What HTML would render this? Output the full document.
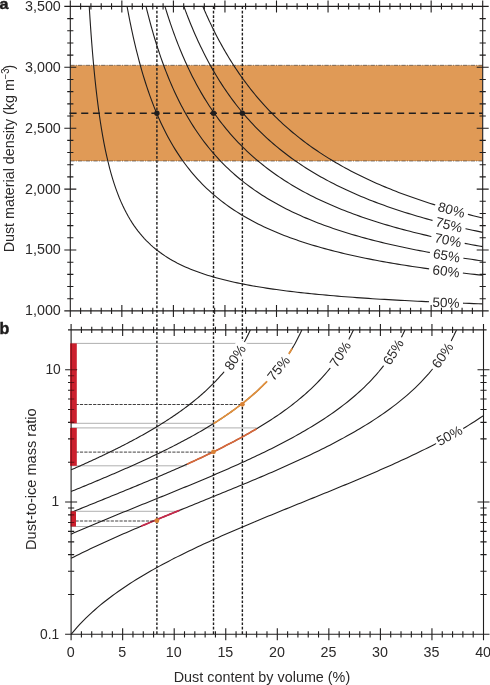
<!DOCTYPE html>
<html lang="en"><head><meta charset="utf-8"><title>Dust density and dust-to-ice ratio</title>
<style>html,body{margin:0;padding:0;background:#fff}svg{display:block}</style></head>
<body>
<svg width="490" height="685" viewBox="0 0 490 685" font-family="'Liberation Sans', Arial, sans-serif" fill="#2b2929">
<rect width="490" height="685" fill="#fff"/>
<rect x="70.3" y="65.3" width="412.4" height="95.7" fill="#e09a56"/>
<g stroke="#201e1e" stroke-opacity="0.8" stroke-width="0.7" stroke-dasharray="4.3 1.2 1 1.2" fill="none"><path d="M70.3 65.3H482.7"/><path d="M70.3 161H482.7"/></g>
<g stroke="#201e1e" stroke-width="1.4" stroke-dasharray="2.7 1.7" fill="none">
<path d="M156.9 6.4V634.3"/>
<path d="M213.51 6.4V634.3"/>
<path d="M242.37 6.4V634.3"/>
</g>
<path d="M69.5 113.22H482.7" stroke="#201e1e" stroke-width="1.5" stroke-dasharray="7.1 4.6" fill="none"/>
<g stroke="#201e1e" stroke-width="1.1" fill="none" stroke-linejoin="round">
<path d="M89.23 6.4L89.37 8.77L89.67 13.47L90.07 19.66L90.56 26.89L91.13 34.89L91.78 43.39L92.49 52.22L93.27 61.21L94.1 70.25L95 79.24L95.95 88.09L96.95 96.76L98.01 105.19L99.11 113.36L100.27 121.25L101.47 128.83L102.71 136.12L104 143.09L105.34 149.77L106.72 156.14L108.14 162.22L109.6 168.02L111.1 173.55L112.64 178.81L114.22 183.83L115.84 188.61L117.5 193.15L119.19 197.49L120.92 201.61L122.69 205.54L124.49 209.29L126.33 212.86L128.2 216.27L130.11 219.52L132.05 222.62L134.02 225.58L136.03 228.41L138.07 231.11L140.14 233.7L142.24 236.17L144.38 238.54L146.55 240.8L148.75 242.97L150.98 245.05L153.24 247.05L155.53 248.96L157.85 250.79L160.2 252.56L162.58 254.25L164.99 255.88L167.43 257.44L169.9 258.95L172.4 260.4L174.92 261.79L177.47 263.14L180.05 264.43L182.66 265.68L185.3 266.89L187.96 268.05L190.65 269.17L193.37 270.25L196.12 271.3L198.89 272.31L201.69 273.29L204.51 274.23L207.36 275.15L210.24 276.03L213.14 276.89L216.07 277.72L219.03 278.52L222.01 279.3L225.01 280.06L228.04 280.79L231.09 281.5L234.17 282.19L237.28 282.86L240.41 283.51L243.56 284.14L246.74 284.76L249.94 285.35L253.17 285.93L256.42 286.5L259.69 287.04L262.99 287.58L266.31 288.1L269.66 288.6L273.03 289.09L276.42 289.57L279.83 290.04L283.27 290.49L286.73 290.94L290.22 291.37L293.72 291.79L297.25 292.2L300.8 292.6L304.38 292.99L307.98 293.38L311.6 293.75L315.24 294.11L318.9 294.47L322.59 294.81L326.29 295.15L330.02 295.48L333.78 295.81L337.55 296.12L341.34 296.43L345.16 296.73L349 297.03L352.86 297.32L356.74 297.6L360.64 297.88L364.56 298.15L368.5 298.42L372.47 298.68L376.46 298.93L380.46 299.18L384.49 299.42L388.54 299.66L392.61 299.9L396.7 300.13L400.81 300.35L404.94 300.57L409.09 300.79L413.26 301L417.45 301.21L421.66 301.41L425.89 301.61L430.14 301.81L434.41 302L438.7 302.19L443.02 302.37L447.35 302.55L451.7 302.73L456.07 302.91L460.46 303.08L464.87 303.25L469.3 303.42L473.74 303.58L478.21 303.74L482.7 303.9"/>
<path d="M127.09 6.4L127.22 7.12L127.48 8.56L127.85 10.52L128.29 12.87L128.81 15.57L129.39 18.55L130.03 21.78L130.73 25.22L131.49 28.85L132.3 32.62L133.16 36.52L134.07 40.53L135.02 44.62L136.02 48.78L137.06 52.99L138.15 57.23L139.27 61.49L140.44 65.77L141.65 70.04L142.89 74.29L144.17 78.53L145.5 82.74L146.85 86.91L148.25 91.05L149.67 95.13L151.14 99.17L152.63 103.15L154.16 107.08L155.73 110.94L157.32 114.75L158.95 118.48L160.61 122.16L162.31 125.76L164.03 129.3L165.78 132.77L167.57 136.17L169.38 139.5L171.23 142.77L173.1 145.97L175 149.1L176.93 152.16L178.89 155.15L180.88 158.08L182.89 160.95L184.94 163.75L187.01 166.49L189.11 169.17L191.23 171.79L193.38 174.35L195.56 176.85L197.76 179.3L199.99 181.69L202.25 184.02L204.53 186.3L206.84 188.53L209.17 190.71L211.53 192.84L213.91 194.92L216.32 196.95L218.75 198.94L221.21 200.88L223.69 202.78L226.2 204.63L228.73 206.44L231.28 208.22L233.85 209.95L236.45 211.64L239.08 213.3L241.72 214.92L244.39 216.5L247.09 218.05L249.8 219.57L252.54 221.05L255.3 222.5L258.09 223.92L260.89 225.31L263.72 226.67L266.57 227.99L269.44 229.3L272.34 230.57L275.25 231.82L278.19 233.04L281.15 234.23L284.13 235.4L287.13 236.55L290.15 237.67L293.2 238.77L296.26 239.85L299.35 240.91L302.46 241.94L305.59 242.95L308.74 243.95L311.9 244.92L315.09 245.88L318.31 246.81L321.54 247.73L324.79 248.63L328.06 249.51L331.35 250.38L334.66 251.23L337.99 252.06L341.34 252.88L344.71 253.68L348.1 254.47L351.51 255.24L354.94 256L358.39 256.75L361.86 257.48L365.35 258.2L368.86 258.9L372.38 259.59L375.93 260.27L379.49 260.94L383.08 261.6L386.68 262.24L390.3 262.88L393.94 263.5L397.6 264.11L401.27 264.71L404.97 265.3L408.68 265.88L412.42 266.45L416.17 267.01L419.94 267.57L423.73 268.11L427.53 268.64L431.36 269.17L435.2 269.68L439.06 270.19L442.94 270.69L446.83 271.18L450.75 271.67L454.68 272.14L458.63 272.61L462.6 273.07L466.58 273.53L470.59 273.97L474.61 274.41L478.64 274.85L482.7 275.27"/>
<path d="M146.01 6.4L146.14 6.91L146.39 7.94L146.73 9.33L147.15 11.02L147.64 12.97L148.19 15.13L148.8 17.48L149.47 20.01L150.18 22.68L150.95 25.49L151.76 28.41L152.62 31.43L153.53 34.54L154.47 37.73L155.46 40.98L156.49 44.28L157.55 47.63L158.66 51.02L159.8 54.43L160.98 57.86L162.19 61.3L163.44 64.75L164.73 68.2L166.05 71.64L167.4 75.07L168.78 78.49L170.2 81.89L171.65 85.27L173.13 88.63L174.64 91.95L176.19 95.25L177.76 98.51L179.36 101.74L180.99 104.93L182.65 108.08L184.34 111.19L186.06 114.26L187.8 117.29L189.58 120.28L191.38 123.23L193.21 126.13L195.06 128.98L196.94 131.79L198.85 134.56L200.79 137.28L202.75 139.96L204.73 142.59L206.74 145.18L208.78 147.73L210.84 150.23L212.93 152.69L215.04 155.1L217.18 157.47L219.34 159.8L221.52 162.09L223.73 164.34L225.96 166.55L228.22 168.71L230.5 170.84L232.8 172.93L235.13 174.98L237.48 176.99L239.85 178.97L242.24 180.91L244.66 182.81L247.1 184.68L249.56 186.51L252.05 188.31L254.55 190.08L257.08 191.81L259.63 193.51L262.2 195.18L264.79 196.82L267.41 198.43L270.04 200.01L272.7 201.57L275.38 203.09L278.07 204.58L280.79 206.05L283.53 207.49L286.29 208.91L289.08 210.3L291.88 211.66L294.7 213L297.54 214.32L300.4 215.61L303.29 216.88L306.19 218.13L309.11 219.35L312.05 220.55L315.01 221.74L318 222.9L321 224.04L324.02 225.16L327.06 226.26L330.11 227.34L333.19 228.41L336.29 229.45L339.41 230.48L342.54 231.49L345.69 232.48L348.87 233.46L352.06 234.42L355.27 235.36L358.5 236.29L361.74 237.2L365.01 238.1L368.29 238.98L371.6 239.85L374.92 240.71L378.25 241.55L381.61 242.37L384.99 243.19L388.38 243.99L391.79 244.77L395.22 245.55L398.66 246.31L402.13 247.06L405.61 247.8L409.11 248.53L412.62 249.24L416.16 249.95L419.71 250.64L423.28 251.33L426.87 252L430.47 252.66L434.09 253.31L437.73 253.96L441.38 254.59L445.05 255.21L448.74 255.83L452.45 256.43L456.17 257.03L459.91 257.61L463.67 258.19L467.44 258.76L471.23 259.32L475.04 259.88L478.86 260.42L482.7 260.96"/>
<path d="M164.94 6.4L165.06 6.79L165.3 7.56L165.62 8.62L166.02 9.9L166.48 11.38L167 13.03L167.58 14.84L168.2 16.78L168.88 18.85L169.6 21.03L170.37 23.31L171.18 25.68L172.03 28.13L172.92 30.65L173.86 33.24L174.83 35.88L175.83 38.57L176.87 41.31L177.95 44.08L179.07 46.89L180.21 49.72L181.39 52.57L182.61 55.44L183.85 58.32L185.13 61.21L186.43 64.1L187.77 66.99L189.14 69.89L190.54 72.77L191.96 75.65L193.42 78.52L194.9 81.37L196.41 84.21L197.95 87.03L199.52 89.84L201.11 92.62L202.74 95.38L204.38 98.12L206.06 100.83L207.76 103.52L209.48 106.18L211.23 108.82L213.01 111.42L214.81 114L216.64 116.55L218.49 119.06L220.36 121.55L222.26 124.01L224.18 126.43L226.13 128.83L228.1 131.19L230.09 133.53L232.11 135.83L234.14 138.1L236.21 140.34L238.29 142.54L240.4 144.72L242.53 146.86L244.68 148.98L246.85 151.06L249.05 153.11L251.26 155.13L253.5 157.13L255.76 159.09L258.04 161.02L260.35 162.93L262.67 164.8L265.01 166.65L267.38 168.47L269.76 170.26L272.17 172.02L274.6 173.76L277.04 175.47L279.51 177.15L282 178.81L284.5 180.44L287.03 182.05L289.58 183.63L292.14 185.19L294.73 186.72L297.34 188.23L299.96 189.71L302.61 191.18L305.27 192.62L307.95 194.03L310.65 195.43L313.37 196.8L316.11 198.16L318.87 199.49L321.65 200.8L324.44 202.09L327.25 203.36L330.09 204.61L332.94 205.85L335.81 207.06L338.69 208.26L341.6 209.43L344.52 210.59L347.46 211.73L350.42 212.86L353.4 213.97L356.39 215.06L359.4 216.13L362.43 217.19L365.48 218.23L368.54 219.26L371.63 220.27L374.72 221.27L377.84 222.25L380.98 223.22L384.13 224.17L387.29 225.11L390.48 226.04L393.68 226.95L396.9 227.85L400.14 228.74L403.39 229.61L406.66 230.47L409.94 231.32L413.24 232.16L416.56 232.98L419.9 233.8L423.25 234.6L426.62 235.39L430 236.17L433.41 236.94L436.82 237.69L440.26 238.44L443.71 239.18L447.17 239.9L450.65 240.62L454.15 241.33L457.66 242.03L461.19 242.71L464.74 243.39L468.3 244.06L471.88 244.72L475.47 245.37L479.08 246.02L482.7 246.65"/>
<path d="M183.87 6.4L183.98 6.7L184.2 7.31L184.51 8.14L184.88 9.15L185.32 10.32L185.81 11.62L186.35 13.05L186.94 14.6L187.57 16.24L188.25 17.98L188.97 19.81L189.74 21.71L190.54 23.69L191.38 25.73L192.25 27.83L193.17 29.99L194.11 32.19L195.09 34.44L196.11 36.73L197.15 39.05L198.23 41.4L199.34 43.78L200.48 46.19L201.65 48.61L202.85 51.05L204.08 53.5L205.34 55.97L206.63 58.45L207.94 60.93L209.28 63.41L210.65 65.89L212.05 68.38L213.47 70.86L214.92 73.34L216.39 75.81L217.89 78.27L219.41 80.72L220.96 83.16L222.54 85.59L224.13 88.01L225.76 90.41L227.4 92.8L229.07 95.17L230.77 97.53L232.48 99.86L234.22 102.18L235.99 104.48L237.77 106.76L239.58 109.01L241.41 111.25L243.26 113.47L245.14 115.66L247.03 117.84L248.95 119.99L250.89 122.12L252.85 124.22L254.83 126.3L256.83 128.36L258.86 130.4L260.9 132.41L262.97 134.41L265.05 136.37L267.16 138.32L269.28 140.24L271.43 142.14L273.59 144.01L275.78 145.86L277.98 147.69L280.2 149.5L282.45 151.28L284.71 153.05L286.99 154.79L289.29 156.5L291.61 158.2L293.95 159.87L296.31 161.52L298.69 163.15L301.08 164.76L303.5 166.35L305.93 167.92L308.38 169.47L310.85 170.99L313.33 172.5L315.84 173.98L318.36 175.45L320.9 176.9L323.46 178.33L326.04 179.74L328.63 181.13L331.24 182.5L333.87 183.85L336.51 185.19L339.18 186.5L341.86 187.8L344.56 189.09L347.27 190.35L350 191.6L352.75 192.83L355.52 194.05L358.3 195.25L361.1 196.43L363.91 197.6L366.75 198.75L369.6 199.89L372.46 201.01L375.34 202.12L378.24 203.21L381.16 204.29L384.09 205.35L387.03 206.4L390 207.44L392.98 208.46L395.97 209.47L398.98 210.47L402.01 211.45L405.05 212.42L408.11 213.38L411.19 214.32L414.28 215.26L417.38 216.18L420.5 217.09L423.64 217.99L426.79 218.87L429.96 219.75L433.14 220.61L436.34 221.46L439.56 222.31L442.78 223.14L446.03 223.96L449.29 224.77L452.56 225.57L455.85 226.36L459.15 227.14L462.47 227.91L465.81 228.67L469.16 229.42L472.52 230.17L475.9 230.9L479.29 231.62L482.7 232.34"/>
<path d="M202.8 6.4L202.9 6.64L203.11 7.13L203.4 7.8L203.75 8.61L204.15 9.55L204.61 10.61L205.12 11.76L205.67 13.01L206.27 14.35L206.9 15.77L207.58 17.26L208.29 18.81L209.04 20.43L209.83 22.11L210.65 23.84L211.51 25.62L212.39 27.45L213.31 29.32L214.26 31.22L215.24 33.16L216.25 35.14L217.29 37.14L218.36 39.17L219.45 41.22L220.58 43.29L221.73 45.38L222.91 47.49L224.11 49.61L225.34 51.74L226.6 53.88L227.88 56.03L229.19 58.19L230.52 60.35L231.88 62.51L233.26 64.68L234.66 66.85L236.09 69.01L237.54 71.17L239.02 73.33L240.51 75.49L242.03 77.63L243.57 79.78L245.14 81.91L246.73 84.03L248.33 86.15L249.96 88.25L251.61 90.35L253.29 92.43L254.98 94.5L256.69 96.56L258.43 98.6L260.19 100.63L261.96 102.65L263.76 104.65L265.57 106.64L267.41 108.61L269.27 110.56L271.14 112.5L273.04 114.42L274.95 116.33L276.88 118.22L278.84 120.09L280.81 121.95L282.8 123.79L284.81 125.61L286.84 127.41L288.88 129.2L290.95 130.97L293.03 132.72L295.13 134.45L297.25 136.17L299.39 137.87L301.54 139.55L303.72 141.21L305.91 142.86L308.12 144.48L310.34 146.1L312.59 147.69L314.85 149.27L317.12 150.82L319.42 152.37L321.73 153.89L324.06 155.4L326.41 156.89L328.77 158.37L331.15 159.82L333.55 161.27L335.96 162.69L338.39 164.1L340.83 165.49L343.3 166.87L345.77 168.23L348.27 169.58L350.78 170.91L353.31 172.22L355.85 173.52L358.41 174.81L360.98 176.08L363.57 177.33L366.18 178.58L368.8 179.8L371.44 181.01L374.09 182.21L376.76 183.4L379.44 184.57L382.14 185.72L384.86 186.87L387.59 188L390.33 189.11L393.09 190.22L395.87 191.31L398.66 192.39L401.47 193.45L404.29 194.51L407.12 195.55L409.97 196.58L412.84 197.59L415.72 198.6L418.61 199.59L421.52 200.58L424.44 201.55L427.38 202.51L430.33 203.46L433.3 204.39L436.28 205.32L439.28 206.24L442.29 207.14L445.31 208.04L448.35 208.93L451.4 209.8L454.47 210.67L457.55 211.52L460.65 212.37L463.76 213.2L466.88 214.03L470.01 214.85L473.17 215.66L476.33 216.46L479.51 217.25L482.7 218.03"/>
</g>
<circle cx="156.9" cy="113.22" r="2.7" fill="#201e1e"/>
<circle cx="213.51" cy="113.22" r="2.7" fill="#201e1e"/>
<circle cx="242.37" cy="113.22" r="2.7" fill="#201e1e"/>
<g transform="translate(446 302.5) rotate(2.4)"><rect x="-17" y="-7.5" width="34" height="15" fill="#fff"/><text x="0" y="4.8" font-size="13.6" text-anchor="middle">50%</text></g>
<g transform="translate(446 271.08) rotate(7.19)"><rect x="-17" y="-7.5" width="34" height="15" fill="#fff"/><text x="0" y="4.8" font-size="13.6" text-anchor="middle">60%</text></g>
<g transform="translate(446.6 255.47) rotate(9.45)"><rect x="-17" y="-7.5" width="34" height="15" fill="#fff"/><text x="0" y="4.8" font-size="13.6" text-anchor="middle">65%</text></g>
<g transform="translate(448 240.08) rotate(11.63)"><rect x="-17" y="-7.5" width="34" height="15" fill="#fff"/><text x="0" y="4.8" font-size="13.6" text-anchor="middle">70%</text></g>
<g transform="translate(449 224.7) rotate(13.97)"><rect x="-17" y="-7.5" width="34" height="15" fill="#fff"/><text x="0" y="4.8" font-size="13.6" text-anchor="middle">75%</text></g>
<g transform="translate(451.5 209.83) rotate(15.76)"><rect x="-17" y="-7.5" width="34" height="15" fill="#fff"/><text x="0" y="4.8" font-size="13.6" text-anchor="middle">80%</text></g>
<path d="M64.3 6.4H488.7M64.3 310.9H488.7M70.3 0.4V316.9M482.7 0.4V316.9M70.3 0.4V12.4M70.3 304.9V316.9M80.61 3.3V9.5M80.61 307.8V314M90.92 3.3V9.5M90.92 307.8V314M101.23 3.3V9.5M101.23 307.8V314M111.54 3.3V9.5M111.54 307.8V314M121.85 0.4V12.4M121.85 304.9V316.9M132.16 3.3V9.5M132.16 307.8V314M142.47 3.3V9.5M142.47 307.8V314M152.78 3.3V9.5M152.78 307.8V314M163.09 3.3V9.5M163.09 307.8V314M173.4 0.4V12.4M173.4 304.9V316.9M183.71 3.3V9.5M183.71 307.8V314M194.02 3.3V9.5M194.02 307.8V314M204.33 3.3V9.5M204.33 307.8V314M214.64 3.3V9.5M214.64 307.8V314M224.95 0.4V12.4M224.95 304.9V316.9M235.26 3.3V9.5M235.26 307.8V314M245.57 3.3V9.5M245.57 307.8V314M255.88 3.3V9.5M255.88 307.8V314M266.19 3.3V9.5M266.19 307.8V314M276.5 0.4V12.4M276.5 304.9V316.9M286.81 3.3V9.5M286.81 307.8V314M297.12 3.3V9.5M297.12 307.8V314M307.43 3.3V9.5M307.43 307.8V314M317.74 3.3V9.5M317.74 307.8V314M328.05 0.4V12.4M328.05 304.9V316.9M338.36 3.3V9.5M338.36 307.8V314M348.67 3.3V9.5M348.67 307.8V314M358.98 3.3V9.5M358.98 307.8V314M369.29 3.3V9.5M369.29 307.8V314M379.6 0.4V12.4M379.6 304.9V316.9M389.91 3.3V9.5M389.91 307.8V314M400.22 3.3V9.5M400.22 307.8V314M410.53 3.3V9.5M410.53 307.8V314M420.84 3.3V9.5M420.84 307.8V314M431.15 0.4V12.4M431.15 304.9V316.9M441.46 3.3V9.5M441.46 307.8V314M451.77 3.3V9.5M451.77 307.8V314M462.08 3.3V9.5M462.08 307.8V314M472.39 3.3V9.5M472.39 307.8V314M482.7 0.4V12.4M482.7 304.9V316.9M64.3 310.9H76.3M476.7 310.9H488.7M67.2 298.72H73.4M479.6 298.72H485.8M67.2 286.54H73.4M479.6 286.54H485.8M67.2 274.36H73.4M479.6 274.36H485.8M67.2 262.18H73.4M479.6 262.18H485.8M64.3 250H76.3M476.7 250H488.7M67.2 237.82H73.4M479.6 237.82H485.8M67.2 225.64H73.4M479.6 225.64H485.8M67.2 213.46H73.4M479.6 213.46H485.8M67.2 201.28H73.4M479.6 201.28H485.8M64.3 189.1H76.3M476.7 189.1H488.7M67.2 176.92H73.4M479.6 176.92H485.8M67.2 164.74H73.4M479.6 164.74H485.8M67.2 152.56H73.4M479.6 152.56H485.8M67.2 140.38H73.4M479.6 140.38H485.8M64.3 128.2H76.3M476.7 128.2H488.7M67.2 116.02H73.4M479.6 116.02H485.8M67.2 103.84H73.4M479.6 103.84H485.8M67.2 91.66H73.4M479.6 91.66H485.8M67.2 79.48H73.4M479.6 79.48H485.8M64.3 67.3H76.3M476.7 67.3H488.7M67.2 55.12H73.4M479.6 55.12H485.8M67.2 42.94H73.4M479.6 42.94H485.8M67.2 30.76H73.4M479.6 30.76H485.8M67.2 18.58H73.4M479.6 18.58H485.8M64.3 6.4H76.3M476.7 6.4H488.7" stroke="#201e1e" stroke-width="1.1" fill="none"/>
<g stroke="#9c9c9c" stroke-width="0.8" fill="none">
<path d="M71.1 343.4H292.5"/>
<path d="M71.1 423.3H213.5"/>
<path d="M71.1 427.9H256.7"/>
<path d="M71.1 465.8H186.9"/>
<path d="M71.1 511.3H179.5"/>
<path d="M71.1 526.5H141"/>
</g>
<g stroke="#201e1e" stroke-width="1.1" fill="none" stroke-linejoin="round">
<path d="M71.1 634.3L74.05 630.78L76.99 627.42L79.94 624.22L82.88 621.14L85.83 618.2L88.77 615.36L91.72 612.62L94.67 609.98L97.61 607.43L100.56 604.95L103.5 602.55L106.45 600.22L109.39 597.95L112.34 595.74L115.29 593.59L118.23 591.49L121.18 589.43L124.12 587.43L127.07 585.46L130.01 583.54L132.96 581.66L135.91 579.81L138.85 578L141.8 576.22L144.74 574.47L147.69 572.75L150.63 571.05L153.58 569.39L156.53 567.75L159.47 566.13L162.42 564.53L165.36 562.96L168.31 561.41L171.25 559.88L174.2 558.36L177.15 556.87L180.09 555.39L183.04 553.93L185.98 552.48L188.93 551.05L191.87 549.63L194.82 548.22L197.77 546.83L200.71 545.45L203.66 544.09L206.6 542.73L209.55 541.39L212.49 540.05L215.44 538.73L218.39 537.41L221.33 536.11L224.28 534.81L227.22 533.52L230.17 532.24L233.11 530.96L236.06 529.69L239.01 528.43L241.95 527.18L244.9 525.93L247.84 524.69L250.79 523.45L253.73 522.21L256.68 520.98L259.63 519.76L262.57 518.54L265.52 517.32L268.46 516.11L271.41 514.9L274.35 513.69L277.3 512.49L280.25 511.28L283.19 510.08L286.14 508.88L289.08 507.69L292.03 506.49L294.97 505.3L297.92 504.1L300.87 502.91L303.81 501.71L306.76 500.52L309.7 499.32L312.65 498.13L315.59 496.93L318.54 495.74L321.49 494.54L324.43 493.34L327.38 492.14L330.32 490.93L333.27 489.73L336.21 488.52L339.16 487.31L342.11 486.09L345.05 484.87L348 483.65L350.94 482.42L353.89 481.19L356.83 479.96L359.78 478.72L362.73 477.47L365.67 476.22L368.62 474.96L371.56 473.7L374.51 472.42L377.45 471.15L380.4 469.86L383.35 468.57L386.29 467.26L389.24 465.95L392.18 464.63L395.13 463.3L398.07 461.96L401.02 460.61L403.97 459.25L406.91 457.88L409.86 456.5L412.8 455.1L415.75 453.69L418.69 452.26L421.64 450.82L424.59 449.37L427.53 447.9L430.48 446.41L433.42 444.91L436.37 443.38L439.31 441.84L442.26 440.28L445.21 438.69L448.15 437.09L451.1 435.46L454.04 433.81L456.99 432.13L459.93 430.42L462.88 428.69L465.83 426.92L468.77 425.12L471.72 423.29L474.66 421.43L477.61 419.53L480.55 417.58L483.5 415.6"/>
<path d="M71.1 558.36L73.85 556.96L76.61 555.58L79.36 554.21L82.11 552.86L84.86 551.51L87.62 550.18L90.37 548.87L93.12 547.56L95.88 546.27L98.63 544.98L101.38 543.71L104.13 542.44L106.89 541.19L109.64 539.94L112.39 538.7L115.15 537.48L117.9 536.25L120.65 535.04L123.4 533.83L126.16 532.63L128.91 531.44L131.66 530.25L134.42 529.07L137.17 527.89L139.92 526.72L142.67 525.56L145.43 524.4L148.18 523.24L150.93 522.09L153.69 520.94L156.44 519.8L159.19 518.66L161.94 517.52L164.7 516.38L167.45 515.25L170.2 514.12L172.96 513L175.71 511.87L178.46 510.75L181.21 509.63L183.97 508.51L186.72 507.39L189.47 506.27L192.22 505.15L194.98 504.04L197.73 502.92L200.48 501.81L203.24 500.69L205.99 499.57L208.74 498.46L211.49 497.34L214.25 496.22L217 495.1L219.75 493.98L222.51 492.86L225.26 491.74L228.01 490.61L230.76 489.48L233.52 488.35L236.27 487.22L239.02 486.09L241.78 484.95L244.53 483.8L247.28 482.66L250.03 481.51L252.79 480.36L255.54 479.2L258.29 478.03L261.05 476.87L263.8 475.69L266.55 474.52L269.3 473.33L272.06 472.14L274.81 470.95L277.56 469.75L280.32 468.54L283.07 467.32L285.82 466.09L288.57 464.86L291.33 463.62L294.08 462.37L296.83 461.11L299.59 459.85L302.34 458.57L305.09 457.28L307.84 455.98L310.6 454.67L313.35 453.35L316.1 452.01L318.86 450.67L321.61 449.31L324.36 447.93L327.11 446.54L329.87 445.14L332.62 443.72L335.37 442.28L338.13 440.83L340.88 439.36L343.63 437.87L346.38 436.35L349.14 434.82L351.89 433.27L354.64 431.69L357.4 430.09L360.15 428.47L362.9 426.81L365.65 425.13L368.41 423.43L371.16 421.69L373.91 419.91L376.67 418.11L379.42 416.27L382.17 414.38L384.92 412.46L387.68 410.5L390.43 408.49L393.18 406.43L395.94 404.32L398.69 402.16L401.44 399.94L404.19 397.65L406.95 395.3L409.7 392.87L412.45 390.37L415.21 387.78L417.96 385.1L420.71 382.32L423.46 379.43L426.22 376.42L428.97 373.29L431.72 370L434.47 366.56L437.23 362.93L439.98 359.11L442.73 355.05L445.49 350.73L448.24 346.12L450.99 341.15L453.74 335.77L456.5 329.9"/>
<path d="M71.1 534.16L73.48 533.12L75.87 532.08L78.25 531.05L80.64 530.03L83.02 529L85.41 527.98L87.79 526.97L90.18 525.96L92.56 524.95L94.95 523.95L97.33 522.95L99.72 521.95L102.1 520.96L104.48 519.96L106.87 518.97L109.25 517.99L111.64 517L114.02 516.02L116.41 515.04L118.79 514.06L121.18 513.09L123.56 512.11L125.95 511.14L128.33 510.17L130.72 509.2L133.1 508.23L135.48 507.26L137.87 506.29L140.25 505.32L142.64 504.36L145.02 503.39L147.41 502.42L149.79 501.46L152.18 500.49L154.56 499.52L156.95 498.56L159.33 497.59L161.72 496.62L164.1 495.65L166.49 494.68L168.87 493.71L171.25 492.74L173.64 491.77L176.02 490.79L178.41 489.81L180.79 488.84L183.18 487.86L185.56 486.87L187.95 485.89L190.33 484.9L192.72 483.91L195.1 482.92L197.49 481.93L199.87 480.93L202.25 479.93L204.64 478.92L207.02 477.92L209.41 476.9L211.79 475.89L214.18 474.87L216.56 473.85L218.95 472.82L221.33 471.79L223.72 470.75L226.1 469.71L228.49 468.66L230.87 467.61L233.25 466.55L235.64 465.48L238.02 464.41L240.41 463.34L242.79 462.25L245.18 461.16L247.56 460.06L249.95 458.96L252.33 457.85L254.72 456.73L257.1 455.6L259.49 454.46L261.87 453.32L264.25 452.16L266.64 451L269.02 449.82L271.41 448.64L273.79 447.44L276.18 446.23L278.56 445.01L280.95 443.78L283.33 442.54L285.72 441.28L288.1 440.02L290.49 438.73L292.87 437.43L295.25 436.12L297.64 434.79L300.02 433.45L302.41 432.09L304.79 430.71L307.18 429.31L309.56 427.89L311.95 426.45L314.33 424.99L316.72 423.51L319.1 422.01L321.49 420.48L323.87 418.93L326.25 417.35L328.64 415.74L331.02 414.11L333.41 412.44L335.79 410.74L338.18 409.01L340.56 407.24L342.95 405.43L345.33 403.59L347.72 401.7L350.1 399.76L352.49 397.78L354.87 395.75L357.26 393.67L359.64 391.53L362.02 389.32L364.41 387.06L366.79 384.72L369.18 382.3L371.56 379.81L373.95 377.22L376.33 374.54L378.72 371.76L381.1 368.86L383.49 365.83L385.87 362.67L388.26 359.36L390.64 355.87L393.02 352.19L395.41 348.3L397.79 344.17L400.18 339.75L402.56 335.02L404.95 329.9"/>
<path d="M71.1 512.49L73.12 511.66L75.13 510.84L77.15 510.02L79.17 509.2L81.18 508.38L83.2 507.56L85.21 506.74L87.23 505.92L89.25 505.1L91.26 504.29L93.28 503.47L95.3 502.65L97.31 501.83L99.33 501.02L101.35 500.2L103.36 499.38L105.38 498.56L107.4 497.75L109.41 496.93L111.43 496.11L113.44 495.29L115.46 494.47L117.48 493.65L119.49 492.83L121.51 492L123.53 491.18L125.54 490.35L127.56 489.53L129.58 488.7L131.59 487.87L133.61 487.04L135.63 486.21L137.64 485.37L139.66 484.54L141.67 483.7L143.69 482.86L145.71 482.02L147.72 481.18L149.74 480.33L151.76 479.49L153.77 478.64L155.79 477.78L157.81 476.93L159.82 476.07L161.84 475.21L163.85 474.34L165.87 473.48L167.89 472.61L169.9 471.73L171.92 470.86L173.94 469.98L175.95 469.09L177.97 468.2L179.99 467.31L182 466.42L184.02 465.51L186.04 464.61L188.05 463.7L190.07 462.79L192.08 461.87L194.1 460.94L196.12 460.02L198.13 459.08L200.15 458.14L202.17 457.2L204.18 456.25L206.2 455.29L208.22 454.33L210.23 453.36L212.25 452.38L214.27 451.4L216.28 450.41L218.3 449.41L220.31 448.41L222.33 447.4L224.35 446.38L226.36 445.35L228.38 444.31L230.4 443.26L232.41 442.21L234.43 441.15L236.45 440.07L238.46 438.99L240.48 437.89L242.49 436.79L244.51 435.67L246.53 434.55L248.54 433.41L250.56 432.26L252.58 431.09L254.59 429.92L256.61 428.73L258.63 427.52L260.64 426.3L262.66 425.07L264.68 423.82L266.69 422.55L268.71 421.27L270.72 419.97L272.74 418.65L274.76 417.31L276.77 415.96L278.79 414.58L280.81 413.18L282.82 411.76L284.84 410.31L286.86 408.84L288.87 407.34L290.89 405.82L292.91 404.27L294.92 402.69L296.94 401.08L298.95 399.43L300.97 397.75L302.99 396.04L305 394.29L307.02 392.49L309.04 390.66L311.05 388.78L313.07 386.85L315.09 384.87L317.1 382.84L319.12 380.75L321.14 378.6L323.15 376.39L325.17 374.1L327.18 371.74L329.2 369.29L331.22 366.76L333.23 364.13L335.25 361.4L337.27 358.55L339.28 355.58L341.3 352.47L343.32 349.21L345.33 345.78L347.35 342.16L349.36 338.33L351.38 334.25L353.4 329.9"/>
<path d="M71.1 491.54L72.75 490.86L74.4 490.19L76.04 489.51L77.69 488.84L79.34 488.16L80.99 487.48L82.64 486.8L84.29 486.12L85.93 485.44L87.58 484.76L89.23 484.07L90.88 483.39L92.53 482.7L94.17 482.01L95.82 481.33L97.47 480.63L99.12 479.94L100.77 479.25L102.42 478.55L104.06 477.86L105.71 477.16L107.36 476.46L109.01 475.75L110.66 475.05L112.3 474.34L113.95 473.64L115.6 472.92L117.25 472.21L118.9 471.5L120.55 470.78L122.19 470.06L123.84 469.34L125.49 468.61L127.14 467.89L128.79 467.16L130.44 466.42L132.08 465.69L133.73 464.95L135.38 464.21L137.03 463.46L138.68 462.72L140.32 461.96L141.97 461.21L143.62 460.45L145.27 459.69L146.92 458.93L148.57 458.16L150.21 457.39L151.86 456.61L153.51 455.83L155.16 455.05L156.81 454.26L158.45 453.47L160.1 452.67L161.75 451.87L163.4 451.06L165.05 450.25L166.7 449.44L168.34 448.62L169.99 447.79L171.64 446.96L173.29 446.13L174.94 445.28L176.58 444.44L178.23 443.58L179.88 442.72L181.53 441.86L183.18 440.99L184.83 440.11L186.47 439.22L188.12 438.33L189.77 437.43L191.42 436.53L193.07 435.62L194.71 434.7L196.36 433.77L198.01 432.83L199.66 431.88L201.31 430.93L202.96 429.97L204.6 429L206.25 428.02L207.9 427.03L209.55 426.03L211.2 425.02L212.84 424L214.49 422.96L216.14 421.92L217.79 420.87L219.44 419.8L221.09 418.72L222.73 417.63L224.38 416.53L226.03 415.41L227.68 414.28L229.33 413.13L230.98 411.97L232.62 410.79L234.27 409.6L235.92 408.39L237.57 407.16L239.22 405.91L240.86 404.65L242.51 403.37L244.16 402.06L245.81 400.74L247.46 399.39L249.11 398.02L250.75 396.63L252.4 395.21L254.05 393.76L255.7 392.29L257.35 390.79L258.99 389.26L260.64 387.7L262.29 386.1L263.94 384.47L265.59 382.81L267.24 381.1L268.88 379.36L270.53 377.57L272.18 375.74L273.83 373.86L275.48 371.92L277.12 369.94L278.77 367.89L280.42 365.79L282.07 363.62L283.72 361.37L285.37 359.06L287.01 356.65L288.66 354.17L290.31 351.58L291.96 348.89L293.61 346.09L295.25 343.16L296.9 340.09L298.55 336.87L300.2 333.48L301.85 329.9"/>
<path d="M71.1 469.86L72.38 469.3L73.66 468.74L74.94 468.17L76.22 467.61L77.5 467.04L78.78 466.47L80.06 465.9L81.34 465.33L82.62 464.75L83.9 464.18L85.18 463.6L86.46 463.02L87.74 462.44L89.02 461.85L90.3 461.27L91.58 460.68L92.86 460.09L94.14 459.5L95.42 458.9L96.7 458.31L97.98 457.71L99.26 457.11L100.54 456.5L101.82 455.9L103.1 455.29L104.38 454.68L105.66 454.07L106.94 453.45L108.22 452.83L109.5 452.21L110.78 451.59L112.06 450.96L113.34 450.33L114.62 449.7L115.9 449.06L117.18 448.43L118.46 447.78L119.74 447.14L121.02 446.49L122.3 445.84L123.58 445.19L124.86 444.53L126.14 443.87L127.42 443.2L128.7 442.53L129.98 441.86L131.26 441.18L132.54 440.5L133.82 439.82L135.1 439.13L136.38 438.44L137.66 437.74L138.94 437.04L140.22 436.34L141.5 435.63L142.78 434.91L144.06 434.19L145.34 433.47L146.62 432.74L147.9 432.01L149.18 431.27L150.46 430.52L151.74 429.77L153.02 429.02L154.3 428.26L155.58 427.49L156.86 426.72L158.14 425.94L159.42 425.16L160.7 424.37L161.98 423.57L163.26 422.76L164.54 421.95L165.82 421.14L167.1 420.31L168.38 419.48L169.66 418.64L170.94 417.79L172.22 416.94L173.5 416.08L174.78 415.2L176.06 414.32L177.34 413.44L178.62 412.54L179.9 411.63L181.18 410.71L182.46 409.79L183.74 408.85L185.02 407.91L186.3 406.95L187.58 405.98L188.86 405L190.14 404.01L191.42 403.01L192.7 401.99L193.98 400.96L195.26 399.92L196.54 398.87L197.82 397.8L199.1 396.72L200.38 395.62L201.66 394.5L202.94 393.37L204.22 392.23L205.5 391.06L206.78 389.88L208.06 388.68L209.34 387.46L210.62 386.22L211.9 384.96L213.18 383.68L214.46 382.37L215.74 381.05L217.02 379.69L218.3 378.32L219.58 376.91L220.86 375.48L222.14 374.02L223.42 372.53L224.7 371L225.98 369.44L227.26 367.85L228.54 366.22L229.82 364.55L231.1 362.84L232.38 361.08L233.66 359.28L234.94 357.43L236.22 355.53L237.5 353.57L238.78 351.55L240.06 349.47L241.34 347.32L242.62 345.1L243.9 342.8L245.18 340.42L246.46 337.95L247.74 335.38L249.02 332.7L250.3 329.9"/>
</g>
<path d="M213.5 423.59L214.49 422.96L216.14 421.92L217.79 420.87L219.44 419.8L221.09 418.72L222.73 417.63L224.38 416.53L226.03 415.41L227.68 414.28L229.33 413.13L230.98 411.97L232.62 410.79L234.27 409.6L235.92 408.39L237.57 407.16L239.22 405.91L240.86 404.65L242.51 403.37L244.16 402.06L245.81 400.74L247.46 399.39L249.11 398.02L250.75 396.63L252.4 395.21L254.05 393.76L255.7 392.29L257.35 390.79L258.99 389.26L260.64 387.7L262.29 386.1L263.94 384.47L265.59 382.81L267.24 381.1L268.88 379.36L270.53 377.57L272.18 375.74L273.83 373.86L275.48 371.92L277.12 369.94L278.77 367.89L280.42 365.79L282.07 363.62L283.72 361.37L285.37 359.06L287.01 356.65L288.66 354.17L290.31 351.58L291.96 348.89L292.3 348.31" stroke="#e2903c" stroke-width="1.7" fill="none"/>
<path d="M186.9 464.22L188.05 463.7L190.07 462.79L192.08 461.87L194.1 460.94L196.12 460.02L198.13 459.08L200.15 458.14L202.17 457.2L204.18 456.25L206.2 455.29L208.22 454.33L210.23 453.36L212.25 452.38L214.27 451.4L216.28 450.41L218.3 449.41L220.31 448.41L222.33 447.4L224.35 446.38L226.36 445.35L228.38 444.31L230.4 443.26L232.41 442.21L234.43 441.15L236.45 440.07L238.46 438.99L240.48 437.89L242.49 436.79L244.51 435.67L246.53 434.55L248.54 433.41L250.56 432.26L252.58 431.09L254.59 429.92L256.61 428.73L256.7 428.67" stroke="#d8683a" stroke-width="1.7" fill="none"/>
<path d="M141 526.27L142.67 525.56L145.43 524.4L148.18 523.24L150.93 522.09L153.69 520.94L156.44 519.8L159.19 518.66L161.94 517.52L164.7 516.38L167.45 515.25L170.2 514.12L172.96 513L175.71 511.87L178.46 510.75L179.5 510.32" stroke="#c8284a" stroke-width="1.7" fill="none"/>
<g stroke="#201e1e" stroke-width="0.85" stroke-dasharray="3.2 1.2" fill="none">
<path d="M71.1 404.5H242.37"/>
<path d="M71.1 452.1H213.51"/>
<path d="M71.1 521H156.9"/>
</g>
<circle cx="242.37" cy="404.3" r="2.4" fill="#d98236"/>
<circle cx="213.51" cy="451.8" r="2.4" fill="#d98236"/>
<circle cx="156.9" cy="520.7" r="2.4" fill="#d98236"/>
<g transform="translate(449.3 435.4) rotate(-28.94)"><rect x="-15.5" y="-7.5" width="31" height="15" fill="#fff"/><text x="0" y="4.8" font-size="13.6" text-anchor="middle">50%</text></g>
<g transform="translate(442.5 355.39) rotate(-55.83)"><rect x="-16.75" y="-7.5" width="33.5" height="15" fill="#fff"/><text x="0" y="4.8" font-size="13.6" text-anchor="middle">60%</text></g>
<g transform="translate(393.2 351.91) rotate(-58.5)"><rect x="-16.75" y="-7.5" width="33.5" height="15" fill="#fff"/><text x="0" y="4.8" font-size="13.6" text-anchor="middle">65%</text></g>
<g transform="translate(340.2 354.17) rotate(-57.03)"><rect x="-17" y="-7.5" width="34" height="15" fill="#fff"/><text x="0" y="4.8" font-size="13.6" text-anchor="middle">70%</text></g>
<g transform="translate(278.6 368.11) rotate(-51.12)"><rect x="-17.5" y="-7.5" width="35" height="15" fill="#fff"/><text x="0" y="4.8" font-size="13.6" text-anchor="middle">75%</text></g>
<g transform="translate(235 357.34) rotate(-56.07)"><rect x="-18" y="-7.5" width="36" height="15" fill="#fff"/><text x="0" y="4.8" font-size="13.6" text-anchor="middle">80%</text></g>
<path d="M68 329.9H486.6M65.1 634.3H489.5M71.1 323.9V640.3M483.5 323.9V640.3M71.1 323.9V335.9M71.1 628.3V640.3M81.41 326.8V333M81.41 631.2V637.4M91.72 326.8V333M91.72 631.2V637.4M102.03 326.8V333M102.03 631.2V637.4M112.34 326.8V333M112.34 631.2V637.4M122.65 323.9V335.9M122.65 628.3V640.3M132.96 326.8V333M132.96 631.2V637.4M143.27 326.8V333M143.27 631.2V637.4M153.58 326.8V333M153.58 631.2V637.4M163.89 326.8V333M163.89 631.2V637.4M174.2 323.9V335.9M174.2 628.3V640.3M184.51 326.8V333M184.51 631.2V637.4M194.82 326.8V333M194.82 631.2V637.4M205.13 326.8V333M205.13 631.2V637.4M215.44 326.8V333M215.44 631.2V637.4M225.75 323.9V335.9M225.75 628.3V640.3M236.06 326.8V333M236.06 631.2V637.4M246.37 326.8V333M246.37 631.2V637.4M256.68 326.8V333M256.68 631.2V637.4M266.99 326.8V333M266.99 631.2V637.4M277.3 323.9V335.9M277.3 628.3V640.3M287.61 326.8V333M287.61 631.2V637.4M297.92 326.8V333M297.92 631.2V637.4M308.23 326.8V333M308.23 631.2V637.4M318.54 326.8V333M318.54 631.2V637.4M328.85 323.9V335.9M328.85 628.3V640.3M339.16 326.8V333M339.16 631.2V637.4M349.47 326.8V333M349.47 631.2V637.4M359.78 326.8V333M359.78 631.2V637.4M370.09 326.8V333M370.09 631.2V637.4M380.4 323.9V335.9M380.4 628.3V640.3M390.71 326.8V333M390.71 631.2V637.4M401.02 326.8V333M401.02 631.2V637.4M411.33 326.8V333M411.33 631.2V637.4M421.64 326.8V333M421.64 631.2V637.4M431.95 323.9V335.9M431.95 628.3V640.3M442.26 326.8V333M442.26 631.2V637.4M452.57 326.8V333M452.57 631.2V637.4M462.88 326.8V333M462.88 631.2V637.4M473.19 326.8V333M473.19 631.2V637.4M483.5 323.9V335.9M483.5 628.3V640.3M65.1 634.3H77.1M477.5 634.3H489.5M68 594.48H74.2M480.4 594.48H486.6M68 571.18H74.2M480.4 571.18H486.6M68 554.65H74.2M480.4 554.65H486.6M68 541.83H74.2M480.4 541.83H486.6M68 531.36H74.2M480.4 531.36H486.6M68 522.5H74.2M480.4 522.5H486.6M68 514.83H74.2M480.4 514.83H486.6M68 508.06H74.2M480.4 508.06H486.6M65.1 502.01H77.1M477.5 502.01H489.5M68 462.19H74.2M480.4 462.19H486.6M68 438.89H74.2M480.4 438.89H486.6M68 422.37H74.2M480.4 422.37H486.6M68 409.55H74.2M480.4 409.55H486.6M68 399.07H74.2M480.4 399.07H486.6M68 390.21H74.2M480.4 390.21H486.6M68 382.54H74.2M480.4 382.54H486.6M68 375.78H74.2M480.4 375.78H486.6M65.1 369.72H77.1M477.5 369.72H489.5M68 329.9H74.2M480.4 329.9H486.6" stroke="#201e1e" stroke-width="1.1" fill="none"/>
<g fill="#cc1f2d"><rect x="70.1" y="343.4" width="6.7" height="79.9"/><rect x="70.1" y="427.9" width="6.7" height="37.9"/><rect x="70.7" y="511.3" width="5.3" height="15.2"/></g>
<path d="M70.2 375.78H74.2M70.2 382.54H74.2M70.2 390.21H74.2M70.2 399.07H74.2M70.2 409.55H74.2M70.2 422.37H74.2M70.2 438.89H74.2M70.2 462.19H74.2M70.2 369.72H77.1M70.2 514.83H74.2M70.2 522.5H74.2" stroke="#4a0d12" stroke-opacity="0.75" stroke-width="1.1" fill="none"/>
<path d="M71.3 343.4V423.3M71.3 427.9V465.8M71.3 511.3V526.5" stroke="#3a0a0e" stroke-opacity="0.5" stroke-width="1.1" fill="none"/>
<g font-size="14.3">
<text x="60.8" y="315.3" text-anchor="end">1,000</text>
<text x="60.8" y="254.4" text-anchor="end">1,500</text>
<text x="60.8" y="193.5" text-anchor="end">2,000</text>
<text x="60.8" y="132.6" text-anchor="end">2,500</text>
<text x="60.8" y="71.7" text-anchor="end">3,000</text>
<text x="60.8" y="10.8" text-anchor="end">3,500</text>
<text x="59.3" y="639" text-anchor="end" font-size="13.8">0.1</text>
<text x="59.3" y="506.21" text-anchor="end" font-size="13.8">1</text>
<text x="60.8" y="374.32" text-anchor="end" font-size="13.8">10</text>
<text x="70.7" y="656.8" text-anchor="middle">0</text>
<text x="122.25" y="656.8" text-anchor="middle">5</text>
<text x="173.8" y="656.8" text-anchor="middle">10</text>
<text x="225.35" y="656.8" text-anchor="middle">15</text>
<text x="276.9" y="656.8" text-anchor="middle">20</text>
<text x="328.45" y="656.8" text-anchor="middle">25</text>
<text x="380" y="656.8" text-anchor="middle">30</text>
<text x="431.55" y="656.8" text-anchor="middle">35</text>
<text x="483.1" y="656.8" text-anchor="middle">40</text>
<text x="173.7" y="681.5" textLength="176.5" lengthAdjust="spacingAndGlyphs">Dust content by volume (%)</text>
<g transform="translate(13.8 252.3) rotate(-90)"><text textLength="173.1" lengthAdjust="spacingAndGlyphs">Dust material density (kg m</text><text x="173.1" y="-4.7" font-size="10" textLength="10.8" lengthAdjust="spacingAndGlyphs">−3</text><text x="182.8" y="0">)</text></g>
<text transform="translate(36.3 549.9) rotate(-90)" textLength="141.5" lengthAdjust="spacingAndGlyphs">Dust-to-ice mass ratio</text>
</g>
<g font-size="16" font-weight="bold" stroke="#1c1a1a" stroke-width="0.45" fill="#1c1a1a"><text transform="translate(-0.5 9.3) scale(1.1 1)" font-size="14.6">a</text><text x="-0.4" y="333.8">b</text></g>
</svg>
</body></html>
